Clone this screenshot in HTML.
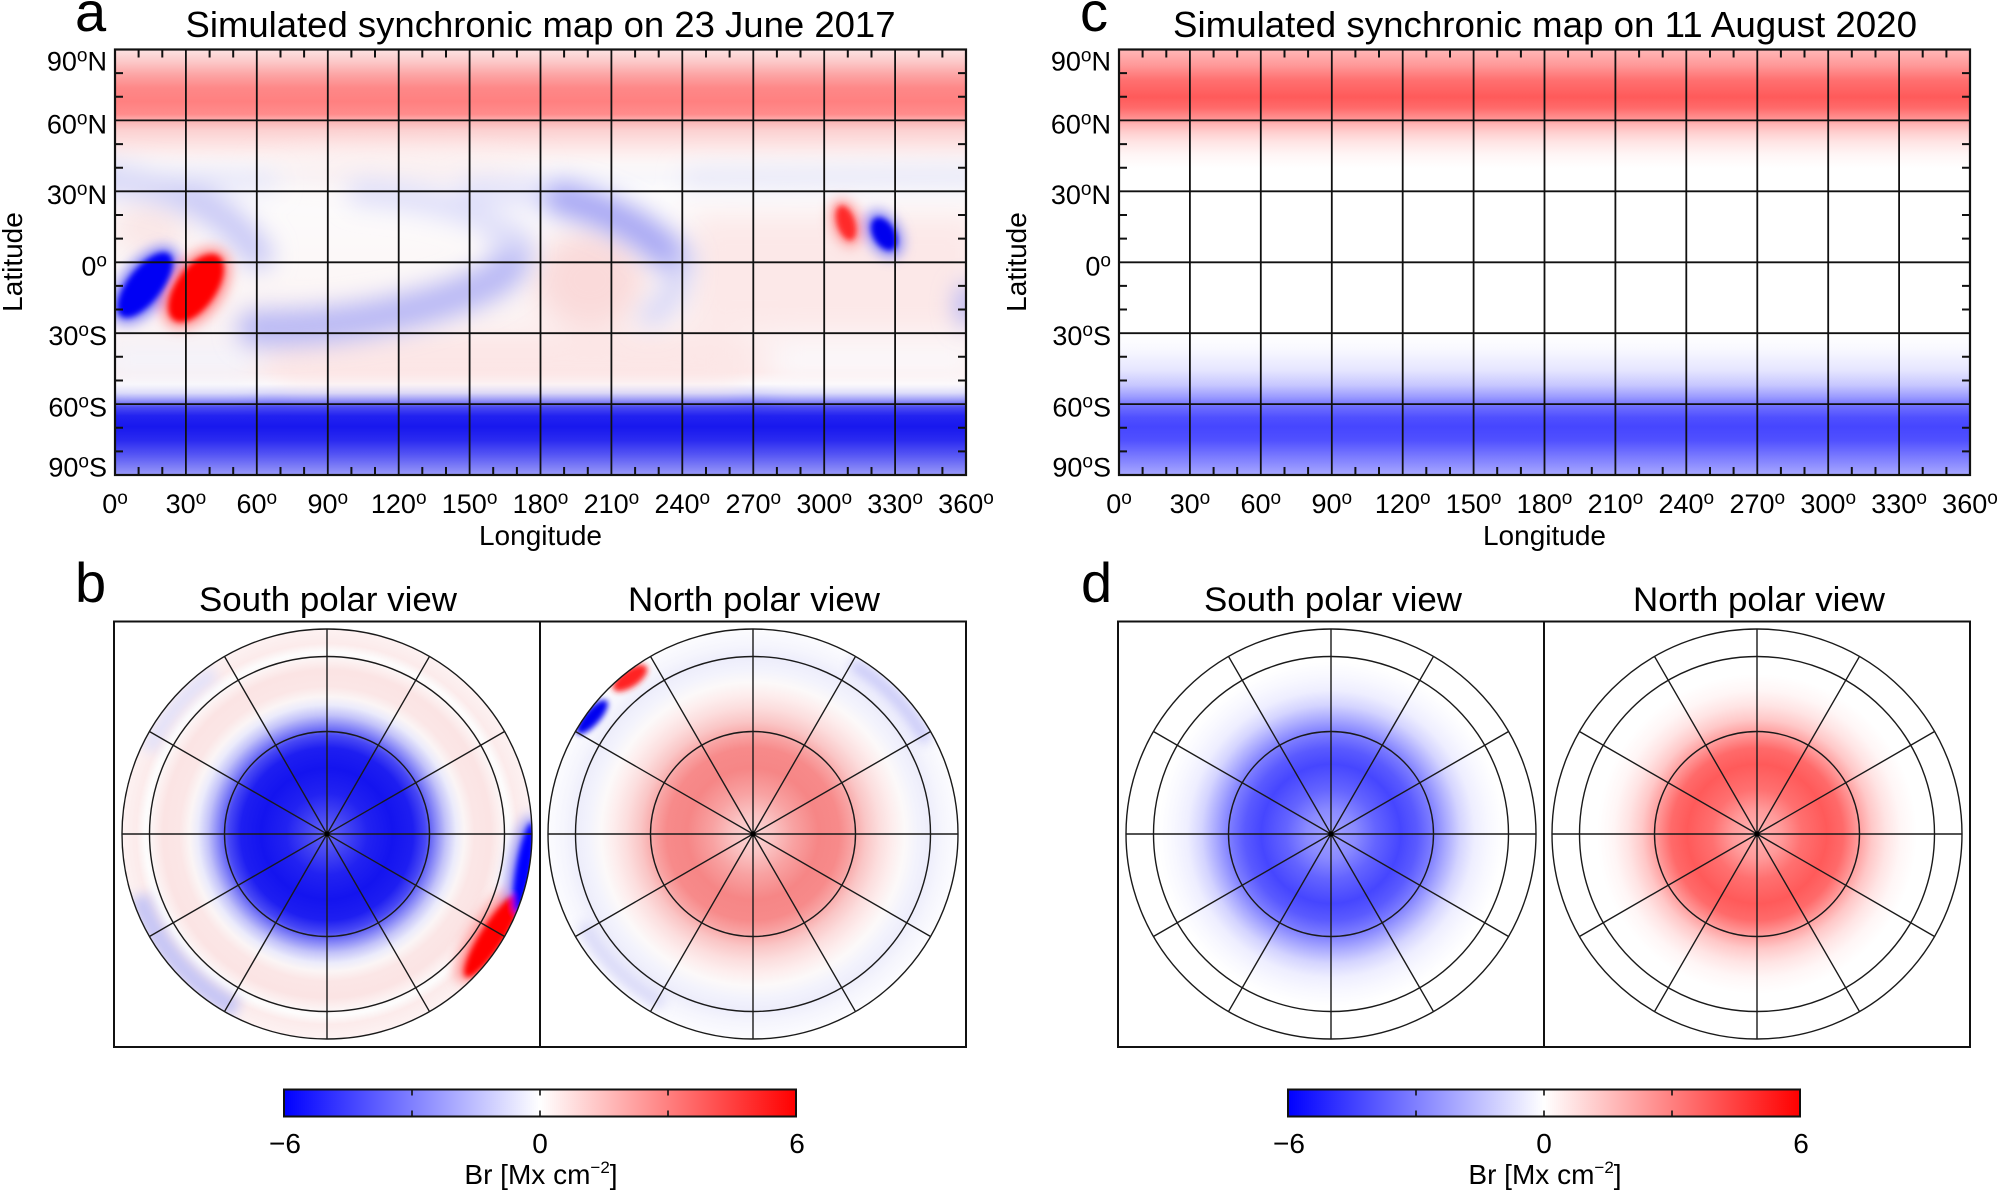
<!DOCTYPE html>
<html><head><meta charset="utf-8"><style>html,body{margin:0;padding:0;background:#fff}svg{display:block}</style></head>
<body>
<svg xmlns="http://www.w3.org/2000/svg" xmlns:xlink="http://www.w3.org/1999/xlink" width="2000" height="1191" viewBox="0 0 2000 1191" font-family="'Liberation Sans', Arial, Helvetica, sans-serif" fill="#000">
<rect width="2000" height="1191" fill="#fff"/>
<defs>
<linearGradient id="gA" gradientUnits="userSpaceOnUse" x1="0" y1="49.5" x2="0" y2="475">
<stop offset="0" stop-color="#fde2e2"/><stop offset="0.029" stop-color="#fcc8c8"/><stop offset="0.060" stop-color="#fca4a4"/><stop offset="0.090" stop-color="#fe8888"/><stop offset="0.123" stop-color="#ff8080"/><stop offset="0.152" stop-color="#ff8c8c"/><stop offset="0.168" stop-color="#fcb4b4"/><stop offset="0.189" stop-color="#fcd0d0"/><stop offset="0.224" stop-color="#fde4e4"/><stop offset="0.248" stop-color="#fdf0f0"/><stop offset="0.271" stop-color="#fbf7f8"/><stop offset="0.302" stop-color="#f8f7fb"/><stop offset="0.330" stop-color="#fcfbfc"/><stop offset="0.499" stop-color="#fcf8f8"/><stop offset="0.666" stop-color="#fcf2f2"/><stop offset="0.706" stop-color="#fcebeb"/><stop offset="0.758" stop-color="#fde8e8"/><stop offset="0.786" stop-color="#fcfafc"/><stop offset="0.807" stop-color="#d4d4fa"/><stop offset="0.824" stop-color="#9090f8"/><stop offset="0.840" stop-color="#4848f2"/><stop offset="0.861" stop-color="#2222f0"/><stop offset="0.887" stop-color="#1818ee"/><stop offset="0.918" stop-color="#2a2af0"/><stop offset="0.953" stop-color="#5656f4"/><stop offset="1" stop-color="#9a9af8"/>
</linearGradient>
<linearGradient id="gC" gradientUnits="userSpaceOnUse" x1="0" y1="49.5" x2="0" y2="475">
<stop offset="0" stop-color="#ffb8b8"/><stop offset="0.036" stop-color="#ff9a9a"/><stop offset="0.072" stop-color="#ff7070"/><stop offset="0.112" stop-color="#ff5a5a"/><stop offset="0.137" stop-color="#ff6a6a"/><stop offset="0.161" stop-color="#ff9090"/><stop offset="0.175" stop-color="#ffb4b4"/><stop offset="0.194" stop-color="#ffcece"/><stop offset="0.217" stop-color="#ffe4e4"/><stop offset="0.248" stop-color="#fff6f6"/><stop offset="0.279" stop-color="#ffffff"/><stop offset="0.671" stop-color="#ffffff"/><stop offset="0.706" stop-color="#f8f8ff"/><stop offset="0.753" stop-color="#e6e6ff"/><stop offset="0.788" stop-color="#c8c8ff"/><stop offset="0.816" stop-color="#9c9cff"/><stop offset="0.838" stop-color="#7070ff"/><stop offset="0.864" stop-color="#5050ff"/><stop offset="0.887" stop-color="#4646ff"/><stop offset="0.918" stop-color="#5050ff"/><stop offset="0.953" stop-color="#7676ff"/><stop offset="1" stop-color="#a8a8ff"/>
</linearGradient>
<radialGradient id="rBS">
<stop offset="0" stop-color="#6666f5"/><stop offset="0.1" stop-color="#4444f3"/><stop offset="0.2" stop-color="#2222f1"/><stop offset="0.32" stop-color="#1414ef"/><stop offset="0.42" stop-color="#1e1ef1"/><stop offset="0.48" stop-color="#4848f4"/><stop offset="0.53" stop-color="#8686f7"/><stop offset="0.58" stop-color="#c2c2f9"/><stop offset="0.63" stop-color="#ebebfb"/><stop offset="0.67" stop-color="#fbf5f5"/><stop offset="0.72" stop-color="#fbe6e6"/><stop offset="0.80" stop-color="#fbe4e4"/><stop offset="0.85" stop-color="#fcf2f2"/><stop offset="0.885" stop-color="#fdfdfd"/><stop offset="0.93" stop-color="#fcebeb"/><stop offset="1" stop-color="#fdf2f2"/>
</radialGradient>
<radialGradient id="rBN">
<stop offset="0" stop-color="#fad6d6"/><stop offset="0.1" stop-color="#fac2c2"/><stop offset="0.2" stop-color="#f8a2a2"/><stop offset="0.32" stop-color="#f68686"/><stop offset="0.42" stop-color="#f78a8a"/><stop offset="0.48" stop-color="#f8a2a2"/><stop offset="0.55" stop-color="#fac6c6"/><stop offset="0.62" stop-color="#fcdede"/><stop offset="0.68" stop-color="#fdeded"/><stop offset="0.74" stop-color="#fcf9f9"/><stop offset="0.80" stop-color="#f3f3fc"/><stop offset="0.86" stop-color="#ededfb"/><stop offset="0.92" stop-color="#f5f5fd"/><stop offset="1" stop-color="#fcfcfe"/>
</radialGradient>
<radialGradient id="rDS">
<stop offset="0" stop-color="#a2a2ff"/><stop offset="0.12" stop-color="#8a8aff"/><stop offset="0.22" stop-color="#6464ff"/><stop offset="0.34" stop-color="#4646ff"/><stop offset="0.42" stop-color="#5a5aff"/><stop offset="0.5" stop-color="#8080ff"/><stop offset="0.56" stop-color="#a8a8ff"/><stop offset="0.63" stop-color="#d4d4ff"/><stop offset="0.7" stop-color="#eeeeff"/><stop offset="0.77" stop-color="#f8f8ff"/><stop offset="0.84" stop-color="#ffffff"/><stop offset="1" stop-color="#ffffff"/>
</radialGradient>
<radialGradient id="rDN">
<stop offset="0" stop-color="#ffb4b4"/><stop offset="0.12" stop-color="#ff9a9a"/><stop offset="0.22" stop-color="#ff7070"/><stop offset="0.34" stop-color="#ff5a5a"/><stop offset="0.42" stop-color="#ff6a6a"/><stop offset="0.5" stop-color="#ffa0a0"/><stop offset="0.56" stop-color="#ffc8c8"/><stop offset="0.63" stop-color="#ffe4e4"/><stop offset="0.7" stop-color="#fff6f6"/><stop offset="0.78" stop-color="#ffffff"/><stop offset="1" stop-color="#ffffff"/>
</radialGradient>
<linearGradient id="cb" x1="0" y1="0" x2="1" y2="0">
<stop offset="0" stop-color="#0000ff"/><stop offset="0.5" stop-color="#ffffff"/><stop offset="1" stop-color="#ff0000"/>
</linearGradient>
<clipPath id="clipA"><rect x="115" y="49.5" width="851" height="425.5"/></clipPath>
<clipPath id="cBS"><circle cx="327" cy="834" r="205"/></clipPath>
<clipPath id="cBN"><circle cx="753" cy="834" r="205"/></clipPath>
<filter id="b3" x="-50%" y="-50%" width="200%" height="200%"><feGaussianBlur stdDeviation="3"/></filter>
<filter id="b6" x="-50%" y="-50%" width="200%" height="200%"><feGaussianBlur stdDeviation="6"/></filter>
<filter id="b12" x="-50%" y="-50%" width="200%" height="200%"><feGaussianBlur stdDeviation="12"/></filter>
<filter id="b15" x="-50%" y="-50%" width="200%" height="200%"><feGaussianBlur stdDeviation="15"/></filter>
<g id="mg">
<path fill="none" stroke="#111" stroke-width="1.8" d="M185.9 49.5V475M256.8 49.5V475M327.8 49.5V475M398.7 49.5V475M469.6 49.5V475M540.5 49.5V475M611.4 49.5V475M682.3 49.5V475M753.3 49.5V475M824.2 49.5V475M895.1 49.5V475M115 120.4H966M115 191.3H966M115 262.3H966M115 333.2H966M115 404.1H966"/>
<path fill="none" stroke="#111" stroke-width="2" d="M138.6 49.5v8M162.3 49.5v8M209.6 49.5v8M233.2 49.5v8M280.5 49.5v8M304.1 49.5v8M351.4 49.5v8M375 49.5v8M422.3 49.5v8M446 49.5v8M493.2 49.5v8M516.9 49.5v8M564.1 49.5v8M587.8 49.5v8M635.1 49.5v8M658.7 49.5v8M706 49.5v8M729.6 49.5v8M776.9 49.5v8M800.5 49.5v8M847.8 49.5v8M871.5 49.5v8M918.7 49.5v8M942.4 49.5v8M138.6 475v-8M162.3 475v-8M209.6 475v-8M233.2 475v-8M280.5 475v-8M304.1 475v-8M351.4 475v-8M375 475v-8M422.3 475v-8M446 475v-8M493.2 475v-8M516.9 475v-8M564.1 475v-8M587.8 475v-8M635.1 475v-8M658.7 475v-8M706 475v-8M729.6 475v-8M776.9 475v-8M800.5 475v-8M847.8 475v-8M871.5 475v-8M918.7 475v-8M942.4 475v-8M115 73.1h8M115 96.8h8M115 144.1h8M115 167.7h8M115 215h8M115 238.6h8M115 285.9h8M115 309.5h8M115 356.8h8M115 380.5h8M115 427.7h8M115 451.4h8M966 73.1h-8M966 96.8h-8M966 144.1h-8M966 167.7h-8M966 215h-8M966 238.6h-8M966 285.9h-8M966 309.5h-8M966 356.8h-8M966 380.5h-8M966 427.7h-8M966 451.4h-8"/>
<rect x="115" y="49.5" width="851" height="425.5" fill="none" stroke="#111" stroke-width="2.2"/>
</g>
<g id="pg" fill="none" stroke="#1a1a1a" stroke-width="1.4">
<circle r="205"/><circle r="177.5"/><circle r="102.5"/>
<path d="M-205 0L205 0M-177.54 -102.5L177.54 102.5M-102.5 -177.54L102.5 177.54M0 -205L0 205M102.5 -177.54L-102.5 177.54M177.54 -102.5L-177.54 102.5"/>
<circle r="2.5" fill="#000" stroke="none"/>
</g>
</defs>

<!-- ===== Panel a ===== -->
<g clip-path="url(#clipA)">
<rect x="115" y="49.5" width="851" height="425.5" fill="url(#gA)"/>
<g filter="url(#b15)">
<ellipse cx="590" cy="280" rx="55" ry="50" fill="#fadada"/>
<rect x="690" y="215" width="290" height="118" fill="#fce8e8"/>
<ellipse cx="150" cy="228" rx="40" ry="28" fill="#fae6e6"/>
<ellipse cx="400" cy="172" rx="140" ry="12" fill="#fbecec"/>
<rect x="280" y="338" width="460" height="42" fill="#fce6e6"/>
<rect x="100" y="338" width="160" height="44" fill="#f4f4fb"/>
<rect x="770" y="338" width="210" height="44" fill="#fbf8fa"/>
</g>
<g filter="url(#b12)" fill="none" stroke-linecap="round">
<path d="M100 178 C170 182 225 205 258 255" stroke="#c8c8f6" stroke-width="30"/>
<path d="M110 178 L270 182" stroke="#e2e2f8" stroke-width="16"/>
<path d="M690 178 L980 176" stroke="#e6e6f8" stroke-width="18"/>
<path d="M255 328 C330 330 430 312 490 282 C512 270 518 256 510 242" stroke="#b8b8f5" stroke-width="36"/>
<path d="M510 242 C495 215 440 198 360 192" stroke="#dedef9" stroke-width="26"/>
<path d="M470 190 C510 191 540 194 565 199" stroke="#dedefa" stroke-width="22"/>
<path d="M560 198 C610 210 652 232 676 263" stroke="#a6a6f4" stroke-width="34"/>
<path d="M678 266 C682 286 670 302 650 316" stroke="#d6d6f8" stroke-width="22"/>
<ellipse cx="968" cy="305" rx="12" ry="22" fill="#b0b0f6" stroke="none"/>
</g>
<g filter="url(#b6)">
<ellipse cx="145" cy="285" rx="46" ry="24" transform="rotate(-52 145 285)" fill="#8484f8"/>
<ellipse cx="196" cy="288" rx="46" ry="28" transform="rotate(-55 196 288)" fill="#ff9494"/>
<ellipse cx="846" cy="223" rx="15" ry="25" transform="rotate(-18 846 223)" fill="#ffa0a0"/>
<ellipse cx="884" cy="234" rx="17" ry="26" transform="rotate(-30 884 234)" fill="#9090f8"/>
</g>
<g filter="url(#b3)">
<ellipse cx="145" cy="285" rx="39" ry="17" transform="rotate(-52 145 285)" fill="#0000f4"/>
<ellipse cx="196" cy="288" rx="39" ry="20" transform="rotate(-55 196 288)" fill="#ff0000"/>
<ellipse cx="846" cy="223" rx="9" ry="18" transform="rotate(-18 846 223)" fill="#ff2a2a"/>
<ellipse cx="884" cy="234" rx="11" ry="18" transform="rotate(-30 884 234)" fill="#0000ee"/>
</g>
</g>
<use xlink:href="#mg" href="#mg"/>

<!-- ===== Panel c ===== -->
<rect x="1119" y="49.5" width="851" height="425.5" fill="url(#gC)"/>
<use xlink:href="#mg" href="#mg" transform="translate(1004,0)"/>

<!-- Panel labels and titles -->
<text x="75" y="31" font-size="56">a</text>
<text x="1080" y="31" font-size="56">c</text>
<text x="75" y="602" font-size="56">b</text>
<text x="1081" y="602" font-size="56">d</text>
<text x="540.5" y="37" font-size="36" text-anchor="middle" textLength="710" lengthAdjust="spacingAndGlyphs">Simulated synchronic map on 23 June 2017</text>
<text x="1545" y="37" font-size="36" text-anchor="middle" textLength="744" lengthAdjust="spacingAndGlyphs">Simulated synchronic map on 11 August 2020</text>

<!-- Lat labels -->
<g font-size="27" text-anchor="end">
<text x="107" y="70.5">90<tspan dy="-9" font-size="19">o</tspan><tspan dy="9">N</tspan></text>
<text x="107" y="133.5">60<tspan dy="-9" font-size="19">o</tspan><tspan dy="9">N</tspan></text>
<text x="107" y="204">30<tspan dy="-9" font-size="19">o</tspan><tspan dy="9">N</tspan></text>
<text x="107" y="275.5">0<tspan dy="-9" font-size="19">o</tspan></text>
<text x="107" y="345">30<tspan dy="-9" font-size="19">o</tspan><tspan dy="9">S</tspan></text>
<text x="107" y="416.5">60<tspan dy="-9" font-size="19">o</tspan><tspan dy="9">S</tspan></text>
<text x="107" y="476.5">90<tspan dy="-9" font-size="19">o</tspan><tspan dy="9">S</tspan></text>
<text x="1111" y="70.5">90<tspan dy="-9" font-size="19">o</tspan><tspan dy="9">N</tspan></text>
<text x="1111" y="133.5">60<tspan dy="-9" font-size="19">o</tspan><tspan dy="9">N</tspan></text>
<text x="1111" y="204">30<tspan dy="-9" font-size="19">o</tspan><tspan dy="9">N</tspan></text>
<text x="1111" y="275.5">0<tspan dy="-9" font-size="19">o</tspan></text>
<text x="1111" y="345">30<tspan dy="-9" font-size="19">o</tspan><tspan dy="9">S</tspan></text>
<text x="1111" y="416.5">60<tspan dy="-9" font-size="19">o</tspan><tspan dy="9">S</tspan></text>
<text x="1111" y="476.5">90<tspan dy="-9" font-size="19">o</tspan><tspan dy="9">S</tspan></text>
</g>
<!-- Lon labels -->
<g font-size="27" text-anchor="middle">
<text x="115" y="513">0<tspan dy="-9" font-size="19">o</tspan></text>
<text x="185.9" y="513">30<tspan dy="-9" font-size="19">o</tspan></text>
<text x="256.8" y="513">60<tspan dy="-9" font-size="19">o</tspan></text>
<text x="327.8" y="513">90<tspan dy="-9" font-size="19">o</tspan></text>
<text x="398.7" y="513">120<tspan dy="-9" font-size="19">o</tspan></text>
<text x="469.6" y="513">150<tspan dy="-9" font-size="19">o</tspan></text>
<text x="540.5" y="513">180<tspan dy="-9" font-size="19">o</tspan></text>
<text x="611.4" y="513">210<tspan dy="-9" font-size="19">o</tspan></text>
<text x="682.3" y="513">240<tspan dy="-9" font-size="19">o</tspan></text>
<text x="753.3" y="513">270<tspan dy="-9" font-size="19">o</tspan></text>
<text x="824.2" y="513">300<tspan dy="-9" font-size="19">o</tspan></text>
<text x="895.1" y="513">330<tspan dy="-9" font-size="19">o</tspan></text>
<text x="966" y="513">360<tspan dy="-9" font-size="19">o</tspan></text>
<text x="1119" y="513">0<tspan dy="-9" font-size="19">o</tspan></text>
<text x="1189.9" y="513">30<tspan dy="-9" font-size="19">o</tspan></text>
<text x="1260.8" y="513">60<tspan dy="-9" font-size="19">o</tspan></text>
<text x="1331.8" y="513">90<tspan dy="-9" font-size="19">o</tspan></text>
<text x="1402.7" y="513">120<tspan dy="-9" font-size="19">o</tspan></text>
<text x="1473.6" y="513">150<tspan dy="-9" font-size="19">o</tspan></text>
<text x="1544.5" y="513">180<tspan dy="-9" font-size="19">o</tspan></text>
<text x="1615.4" y="513">210<tspan dy="-9" font-size="19">o</tspan></text>
<text x="1686.3" y="513">240<tspan dy="-9" font-size="19">o</tspan></text>
<text x="1757.3" y="513">270<tspan dy="-9" font-size="19">o</tspan></text>
<text x="1828.2" y="513">300<tspan dy="-9" font-size="19">o</tspan></text>
<text x="1899.1" y="513">330<tspan dy="-9" font-size="19">o</tspan></text>
<text x="1970" y="513">360<tspan dy="-9" font-size="19">o</tspan></text>
</g>
<text x="540.5" y="545" font-size="28" text-anchor="middle">Longitude</text>
<text x="1544.5" y="545" font-size="28" text-anchor="middle">Longitude</text>
<text transform="translate(22,262) rotate(-90)" font-size="28" text-anchor="middle">Latitude</text>
<text transform="translate(1026,262) rotate(-90)" font-size="28" text-anchor="middle">Latitude</text>

<!-- ===== Panel b ===== -->
<text x="328" y="611" font-size="34" text-anchor="middle" textLength="258" lengthAdjust="spacingAndGlyphs">South polar view</text>
<text x="754" y="611" font-size="34" text-anchor="middle" textLength="252" lengthAdjust="spacingAndGlyphs">North polar view</text>
<g clip-path="url(#cBS)">
<circle cx="327" cy="834" r="205" fill="url(#rBS)"/>
<g filter="url(#b6)" fill="none" transform="translate(327,834)">
<path d="M-90 175 A197 197 0 0 1 -188 62" stroke="#c4c4f5" stroke-width="20"/>
<path d="M-178.5 -83.3 A197 197 0 0 1 -113 -161.4" stroke="#e0e0fa" stroke-width="14"/>
</g>
<g filter="url(#b6)">
<ellipse cx="491" cy="933" rx="58" ry="20" transform="rotate(-57 491 933)" fill="#ff9a9a"/>
<ellipse cx="522" cy="868" rx="54" ry="14" transform="rotate(100 522 868)" fill="#9a9af8"/>
</g>
<g filter="url(#b3)">
<ellipse cx="493" cy="935" rx="50" ry="12" transform="rotate(-57 493 935)" fill="#ff0000"/>
<ellipse cx="524" cy="868" rx="46" ry="8" transform="rotate(100 524 868)" fill="#0000ff"/>
</g>
</g>
<use xlink:href="#pg" href="#pg" transform="translate(327,834)"/>

<g clip-path="url(#cBN)">
<circle cx="753" cy="834" r="205" fill="url(#rBN)"/>
<g filter="url(#b6)" fill="none" transform="translate(753,834)">
<path d="M98.5 -170.6 A197 197 0 0 1 173.9 -92.5" stroke="#c8c8f8" stroke-width="14"/>
<path d="M-90.1 169.5 A192 192 0 0 1 -169.5 90.1" stroke="#d8d8f8" stroke-width="14"/>
</g>
<g filter="url(#b3)">
<ellipse cx="630" cy="678" rx="20" ry="9" transform="rotate(-34 630 678)" fill="#ff2020"/>
<ellipse cx="592" cy="717" rx="22" ry="8" transform="rotate(-48 592 717)" fill="#0000f0"/>
</g>
</g>
<use xlink:href="#pg" href="#pg" transform="translate(753,834)"/>
<rect x="114" y="621.5" width="852" height="425.5" fill="none" stroke="#111" stroke-width="2"/>
<path d="M540 621.5V1047" stroke="#111" stroke-width="2"/>

<!-- ===== Panel d ===== -->
<text x="1333" y="611" font-size="34" text-anchor="middle" textLength="258" lengthAdjust="spacingAndGlyphs">South polar view</text>
<text x="1759" y="611" font-size="34" text-anchor="middle" textLength="252" lengthAdjust="spacingAndGlyphs">North polar view</text>
<circle cx="1331" cy="834" r="205" fill="url(#rDS)"/>
<use xlink:href="#pg" href="#pg" transform="translate(1331,834)"/>
<circle cx="1757" cy="834" r="205" fill="url(#rDN)"/>
<use xlink:href="#pg" href="#pg" transform="translate(1757,834)"/>
<rect x="1118" y="621.5" width="852" height="425.5" fill="none" stroke="#111" stroke-width="2"/>
<path d="M1544 621.5V1047" stroke="#111" stroke-width="2"/>

<!-- ===== Colorbars ===== -->
<rect x="284" y="1089.5" width="512" height="27" fill="url(#cb)" stroke="#111" stroke-width="2"/>
<path d="M412 1089.5v6M540 1089.5v6M668 1089.5v6M412 1116.5v-6M540 1116.5v-6M668 1116.5v-6" stroke="#111" stroke-width="1.6"/>
<rect x="1288" y="1089.5" width="512" height="27" fill="url(#cb)" stroke="#111" stroke-width="2"/>
<path d="M1416 1089.5v6M1544 1089.5v6M1672 1089.5v6M1416 1116.5v-6M1544 1116.5v-6M1672 1116.5v-6" stroke="#111" stroke-width="1.6"/>
<g font-size="28" text-anchor="middle">
<text x="285" y="1153">−6</text>
<text x="540" y="1153">0</text>
<text x="797" y="1153">6</text>
<text x="1289" y="1153">−6</text>
<text x="1544" y="1153">0</text>
<text x="1801" y="1153">6</text>
<text x="541" y="1184">Br [Mx cm<tspan dy="-11" font-size="17">−2</tspan><tspan dy="11">]</tspan></text>
<text x="1545" y="1184">Br [Mx cm<tspan dy="-11" font-size="17">−2</tspan><tspan dy="11">]</tspan></text>
</g>
</svg>
</body></html>
